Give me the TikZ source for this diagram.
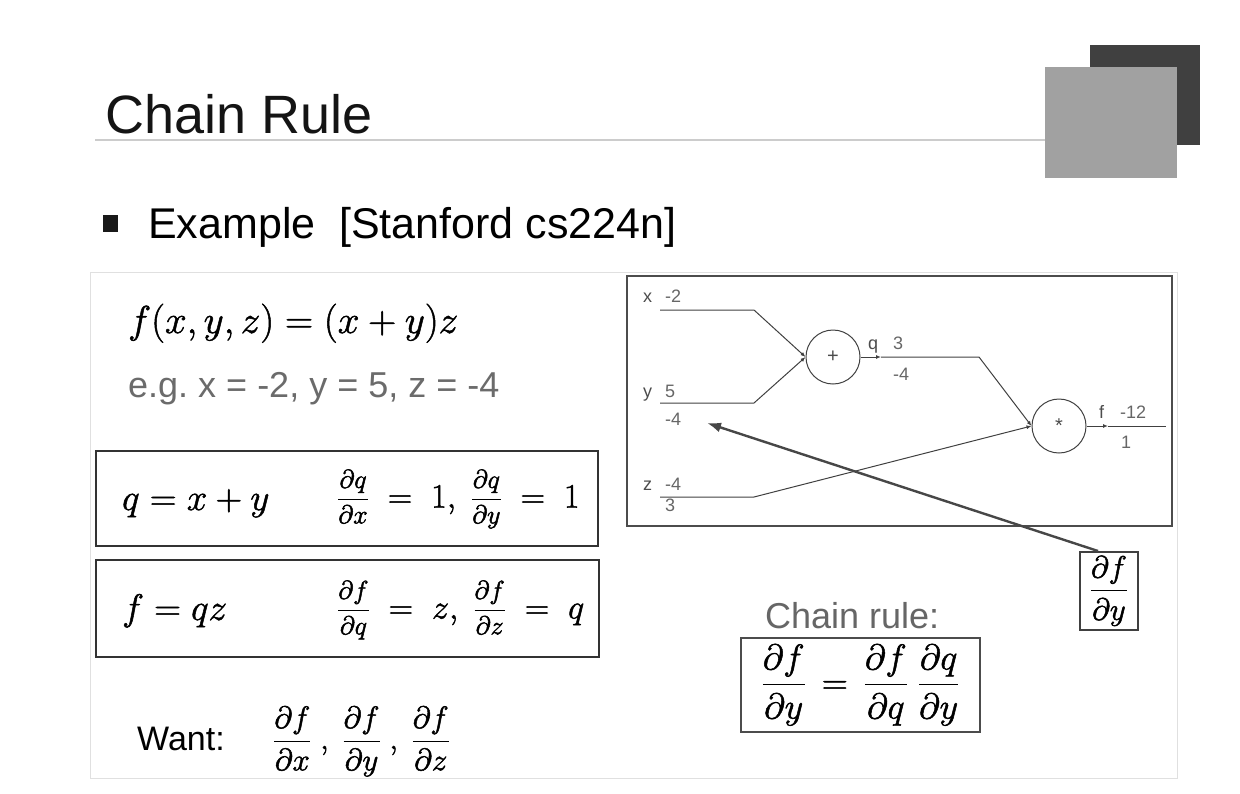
\RequirePackage{fix-cm}
\documentclass[tikz,border=0pt]{standalone}
\usepackage{amsmath}
\usepackage[no-math]{fontspec}
\setmainfont{Liberation Sans}
\usetikzlibrary{arrows.meta,positioning}
\newcommand\fsz[1]{\fontsize{#1}{#1}\selectfont}
\newcommand\heavymath[1]{\special{pdf:literal 2 Tr 0.5 w}#1\special{pdf:literal 0 Tr}}
\newcommand\pdfrac[2]{\raisebox{2pt}{\fsz{26}$\dfrac{\partial #1}{\partial #2}$}}

\begin{document}
\begin{tikzpicture}[x=1pt,y=-1pt,>={Latex[length=5pt,width=4pt]}]
\tikzset{
  gate/.style={draw=black!75,line width=1pt,circle,minimum size=54pt,inner sep=0pt,text=black!70,font=\fsz{20}},
  wire/.style={draw=black!75,line width=1pt},
  val/.style={anchor=base west,inner sep=0pt,text=black!60,font=\fsz{18}},
  var/.style={val,text=black!70},
  eqbox/.style={draw=black!80,line width=2pt,inner sep=0pt},
  txt/.style={anchor=base west,inner sep=0pt}
}
\useasboundingbox (0,0) rectangle (1240,793);
% title and corner squares
\node[txt,font=\fsz{54},text=black!92] (title) at (105,133) {Chain Rule};
\draw[black!20,line width=2.5pt] (95,140) -- (1045,140);
\fill[black!75] (1090,45) rectangle (1200,145);
\fill[black!37] (1045,67) rectangle (1177,178);
\fill[black!90] (103,215) rectangle (118,232);
\node[txt,font=\fsz{43}] (sub) at (148,238) {Example\ \ [Stanford cs224n]};
\draw[black!12] (90,272) rectangle (1177,778);

% left column
\node[txt,font=\fsz{39}] (fdef) at (128,333) {\heavymath{$f(x,y,z)=(x+y)z$}};
\node[txt,font=\fsz{36},text=black!58] (eg) at (128,397) {e.g.\ x = -2, y = 5, z = -4};
\node[eqbox,minimum width=502pt,minimum height=95pt] (qbox) at (347,498.5) {};
\node[txt,font=\fsz{37}] (qdef) at (122,510) {\heavymath{$q=x+y$}};
\node[txt,font=\fsz{34}] (qder) at (337,507.5) {\heavymath{$\pdfrac{q}{x}\;=\;1,\;\pdfrac{q}{y}\;=\;1$}};
\node[eqbox,minimum width=503pt,minimum height=97pt] (fbox) at (347.5,608.5) {};
\node[txt,font=\fsz{37}] (fprod) at (122,620) {\heavymath{$f=qz$}};
\node[txt,font=\fsz{34}] (fder) at (337,618.5) {\heavymath{$\pdfrac{f}{q}\;=\;z,\;\pdfrac{f}{z}\;=\;q$}};
\node[txt,font=\fsz{34}] (want) at (137,750) {Want:};
\node[txt,font=\fsz{31}] (wantd) at (273,749) {\heavymath{$\dfrac{\partial f}{\partial x}\;,\;\dfrac{\partial f}{\partial y}\;,\;\dfrac{\partial f}{\partial z}$}};

% computational graph
\draw[black!70,line width=1.2pt] (627,276) rectangle (1172,526);
\node[gate] (plus) at (833,357) {+};
\node[gate] (times) at (1059,426) {*};
\coordinate (xin) at (660,310);
\coordinate (xbend) at (754,310);
\coordinate (yin) at (660,403);
\coordinate (ybend) at (754,403);
\coordinate (zin) at (660,497);
\coordinate (zbend) at (754,497);
\coordinate (qdot) at (881,357);
\coordinate (qbend) at (979,357);
\coordinate (fdot) at (1108,426);
\coordinate (fout) at (1166,426);
\draw[wire,->] (xin) -- (xbend) -- (plus.west);
\draw[wire,->] (yin) -- (ybend) -- (plus.west);
\draw[wire,->] (plus.east) -- (qdot);
\draw[wire,->] (qdot) -- (qbend) -- (times.west);
\draw[wire,->] (zin) -- (zbend) -- (times.west);
\draw[wire,->] (times.east) -- (fdot);
\draw[wire] (fdot) -- (fout);
\node[var] (xl) at (643,302) {x};
\node[val] (xv) at (665,302) {-2};
\node[var] (yl) at (643,397) {y};
\node[val] (yv) at (665,397) {5};
\node[val] (yg) at (665,425) {-4};
\node[var] (zl) at (643,490) {z};
\node[val] (zv) at (665,490) {-4};
\node[val] (zg) at (665,511) {3};
\node[var] (ql) at (868,349) {q};
\node[val] (qv) at (893,349) {3};
\node[val] (qg) at (893,380) {-4};
\node[var] (fl) at (1099,418) {f};
\node[val] (fv) at (1120,418) {-12};
\node[val] (fg) at (1121,448) {1};

% chain rule
\node[txt,font=\fsz{36},text=black!60] (chain) at (765,628) {Chain rule:};
\node[draw=black!70,line width=2.2pt,minimum width=239pt,minimum height=94pt,inner sep=0pt,font=\fsz{36}] (cbox) at (860.5,685)
  {\heavymath{$\dfrac{\partial f}{\partial y}\,=\,\dfrac{\partial f}{\partial q}\;\dfrac{\partial q}{\partial y}$}};
\node[draw=black!75,line width=2pt,minimum width=58pt,minimum height=78pt,inner sep=0pt,font=\fsz{31}] (dfy) at (1109,591)
  {\heavymath{$\dfrac{\partial f}{\partial y}$}};
\coordinate (ytip) at (707,423);
\draw[line width=2.4pt,black!72,-{Latex[length=14pt,width=10pt]}] ([xshift=-11pt]dfy.north) -- (ytip);
\end{tikzpicture}
\end{document}
